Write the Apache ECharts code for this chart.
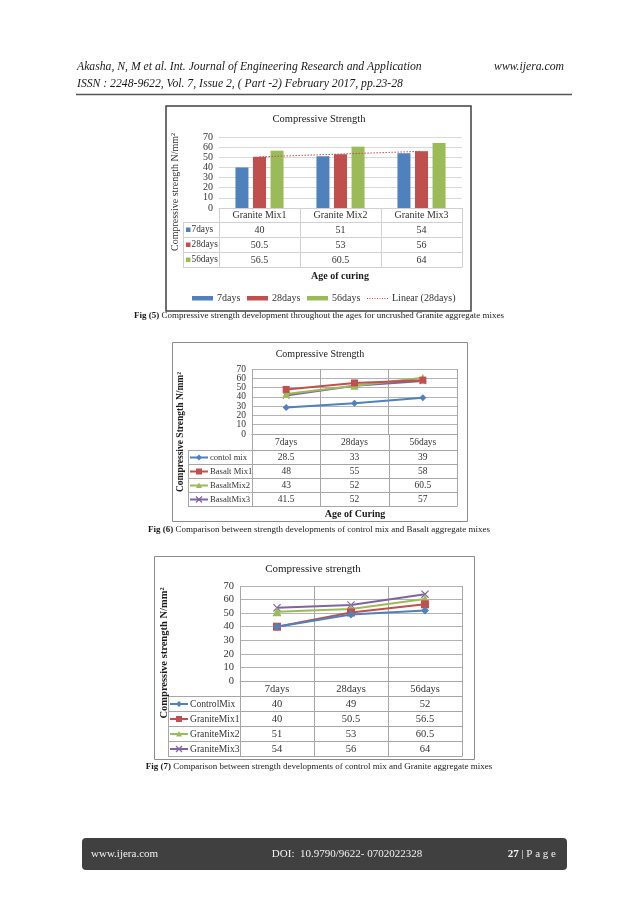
<!DOCTYPE html>
<html><head><meta charset="utf-8">
<script src="https://cdn.jsdelivr.net/npm/echarts@6/dist/echarts.min.js"></script>
<style>html,body{margin:0;padding:0;background:#fff}#c{width:638px;height:902px}</style>
</head><body><div id="c"></div>
<script>
// ---------- DATA ----------
const fig5Categories = ['Granite Mix1', 'Granite Mix2', 'Granite Mix3'];
const fig5SeriesNames = ['7days', '28days', '56days'];
const fig5Days7 = [40, 51, 54];
const fig5Days28 = [50.5, 53, 56];
const fig5Days56 = [56.5, 60.5, 64];
const fig5TrendName = 'Linear (28days)';
const fig5Trend28 = [50.4, 53.2, 55.9];

const fig6Categories = ['7days', '28days', '56days'];
const fig6SeriesNames = ['contol mix', 'Basalt Mix1', 'BasaltMix2', 'BasaltMix3'];
const fig6ControlMix = [28.5, 33, 39];
const fig6BasaltMix1 = [48, 55, 58];
const fig6BasaltMix2 = [43, 52, 60.5];
const fig6BasaltMix3 = [41.5, 52, 57];

const fig7Categories = ['7days', '28days', '56days'];
const fig7SeriesNames = ['ControlMix', 'GraniteMix1', 'GraniteMix2', 'GraniteMix3'];
const fig7ControlMix = [40, 49, 52];
const fig7GraniteMix1 = [40, 50.5, 56.5];
const fig7GraniteMix2 = [51, 53, 60.5];
const fig7GraniteMix3 = [54, 56, 64];

const yMin = 0, yMax = 70, yStep = 10;

// ---------- TEXTS ----------
const headerLine1 = 'Akasha, N, M et al. Int. Journal of Engineering Research and Application';
const headerLine2 = 'ISSN : 2248-9622, Vol. 7, Issue 2, ( Part -2) February 2017, pp.23-28';
const headerSite = 'www.ijera.com';
const fig5Title = 'Compressive Strength';
const fig6Title = 'Compressive Strength';
const fig7Title = 'Compressive strength';
const fig5YName = 'Compressive strength N/mm²';
const fig6YName = 'Compressive Strength N/mm²';
const fig7YName = 'Compressive strength N/mm²';
const fig5XName = 'Age of curing';
const fig6XName = 'Age of Curing';
const cap5 = ['Fig (5)', ' Compressive strength development throughout the ages for uncrushed Granite aggregate mixes'];
const cap6 = ['Fig (6)', ' Comparison between strength developments of control mix and Basalt aggregate mixes'];
const cap7 = ['Fig (7)', ' Comparison between strength developments of control mix and Granite aggregate mixes'];
const footLeft = 'www.ijera.com';
const footMid = 'DOI:  10.9790/9622- 0702022328';
const footPage = '27';
const footPageTail = ' | P a g e';

// ---------- STYLE / LAYOUT ----------
const SERIF = "'Liberation Serif','Times New Roman',serif";
const COL = ['#4f81bd', '#c0504d', '#9bbb59', '#8064a2'];
const XPATH = 'path://M0,1L1,0L5,4L9,0L10,1L6,5L10,9L9,10L5,6L1,10L0,9L4,5Z';
const SYM = ['diamond', 'rect', 'triangle', XPATH];
const L1 = {left: 219, right: 462, top: 137, bottom: 208, rowY: [208, 222, 237, 252, 267], keyLeft: 183, fs: 10, nfs: 9.3, line: '#d0d0d0', keyW: 0};
const L2 = {left: 252, right: 457, top: 369, bottom: 434, rowY: [434, 450, 464, 478, 492, 506], keyLeft: 188, fs: 9.5, nfs: 8.6, line: '#a6a6a6', keyW: 18};
const L3 = {left: 240, right: 462, top: 586, bottom: 681, rowY: [681, 696, 711, 726, 741, 756], keyLeft: 168, fs: 10.5, nfs: 9.6, line: '#a6a6a6', keyW: 18};

const G = [];
function txt(x, y, text, o) {
  o = o || {};
  const st = {text: text, font: o.font || ('10px ' + SERIF), fill: o.fill || '#262626',
    align: o.align || 'left', verticalAlign: o.va || 'middle',
    textAlign: o.align || 'left', textVerticalAlign: o.va || 'middle'};
  if (o.rich) st.rich = o.rich;
  G.push({type: 'text', x: x, y: y, rotation: o.rot || 0, z: 100, silent: true, style: st});
}
function ln(x1, y1, x2, y2, stroke, w, dash) {
  G.push({type: 'line', z: 50, silent: true, shape: {x1: x1, y1: y1, x2: x2, y2: y2},
    style: {stroke: stroke, lineWidth: w || 1, lineDash: dash || null}});
}
function rect(x, y, w, h, o) {
  G.push({type: 'rect', z: o.z || 40, silent: true, shape: {x: x, y: y, width: w, height: h, r: o.r || 0},
    style: {fill: o.fill || 'none', stroke: o.stroke || null, lineWidth: o.lw || 1}});
}
function marker(kind, cx, cy, s, color) {
  const h = s / 2;
  if (kind === 0) G.push({type: 'polygon', z: 60, silent: true, shape: {points: [[cx, cy - h], [cx + h, cy], [cx, cy + h], [cx - h, cy]]}, style: {fill: color}});
  else if (kind === 1) G.push({type: 'rect', z: 60, silent: true, shape: {x: cx - h, y: cy - h, width: s, height: s}, style: {fill: color}});
  else if (kind === 2) G.push({type: 'polygon', z: 60, silent: true, shape: {points: [[cx, cy - h], [cx + h, cy + h * 0.8], [cx - h, cy + h * 0.8]]}, style: {fill: color}});
  else { ln(cx - h, cy - h, cx + h, cy + h, color, 1.2); ln(cx - h, cy + h, cx + h, cy - h, color, 1.2); }
}

// table under a category plot
function dataTable(L, cats, names, rows, keyType) {
  const n = cats.length, bw = (L.right - L.left) / n, R = L.rowY, last = R[R.length - 1];
  const font = L.fs + 'px ' + SERIF, nfont = L.nfs + 'px ' + SERIF;
  ln(L.left, R[0] + 0.5, L.right, R[0] + 0.5, L.line);
  for (let i = 1; i < R.length; i++) ln(L.keyLeft, R[i] + 0.5, L.right, R[i] + 0.5, L.line);
  ln(L.keyLeft + 0.5, R[1], L.keyLeft + 0.5, last + 0.5, L.line);
  for (let j = 0; j <= n; j++) {
    const x = Math.round(L.left + j * bw) + 0.5;
    ln(x, R[0], x, last + 0.5, L.line);
  }
  cats.forEach((c, j) => txt(L.left + (j + 0.5) * bw, (R[0] + R[1]) / 2 + 0.5, c, {font: font, align: 'center', fill: '#333'}));
  rows.forEach((vals, i) => {
    const cy = (R[i + 1] + R[i + 2]) / 2 + 0.5;
    if (keyType === 'square') {
      rect(L.keyLeft + 3, cy - 2.5, 4.5, 4.5, {fill: COL[i], z: 60});
      txt(L.keyLeft + 8.5, cy, names[i], {font: nfont, fill: '#333'});
    } else {
      ln(L.keyLeft + 2, cy, L.keyLeft + 2 + L.keyW, cy, COL[i], 2);
      marker(i, L.keyLeft + 2 + L.keyW / 2, cy, 6, COL[i]);
      txt(L.keyLeft + 4 + L.keyW, cy, names[i], {font: nfont, fill: '#333'});
    }
    vals.forEach((v, j) => txt(L.left + (j + 0.5) * bw, cy, String(v), {font: font, align: 'center', fill: '#333'}));
  });
}

// ---------- PAGE TEXT ----------
const HF = 'italic 11.7px ' + SERIF;
txt(77, 67, headerLine1, {font: HF, fill: '#1a1a1a'});
txt(77, 84, headerLine2, {font: HF, fill: '#1a1a1a'});
txt(564, 67, headerSite, {font: HF, fill: '#1a1a1a', align: 'right'});
ln(76, 94.5, 572, 94.5, '#555', 1.5);

function caption(y, parts) {
  txt(319, y, '{b|' + parts[0] + '}' + parts[1], {font: '9px ' + SERIF, fill: '#1a1a1a', align: 'center',
    rich: {b: {fontWeight: 'bold', fontSize: 9, fontFamily: SERIF, fill: '#1a1a1a'}}});
}
caption(316, cap5);
caption(530, cap6);
caption(767, cap7);

rect(82, 838, 485, 32, {fill: '#404040', r: 4, z: 30});
txt(91, 854, footLeft, {font: '11px ' + SERIF, fill: '#f2f2f2'});
txt(347, 854, footMid, {font: '11px ' + SERIF, fill: '#f2f2f2', align: 'center'});
txt(556, 854, '{b|' + footPage + '}' + footPageTail, {font: '11px ' + SERIF, fill: '#f2f2f2', align: 'right',
  rich: {b: {fontWeight: 'bold', fontSize: 11, fontFamily: SERIF, fill: '#f2f2f2'}}});

// ---------- FIG 5 ----------
rect(166, 106, 305, 205, {stroke: '#404040', lw: 1.5, z: 20});
txt(319, 119, fig5Title, {font: '10.5px ' + SERIF, fill: '#1a1a1a', align: 'center'});
txt(175, 192, fig5YName, {font: '10px ' + SERIF, fill: '#333', align: 'center', rot: Math.PI / 2});
dataTable(L1, fig5Categories, fig5SeriesNames, [fig5Days7, fig5Days28, fig5Days56], 'square');
txt(340, 276, fig5XName, {font: 'bold 10px ' + SERIF, fill: '#1a1a1a', align: 'center'});
const lg5 = [[192, 217], [247, 272], [307, 332]];
fig5SeriesNames.forEach((nm, i) => {
  rect(lg5[i][0], 296, 21, 4.5, {fill: COL[i], z: 60});
  txt(lg5[i][1], 298.5, nm, {font: '10px ' + SERIF, fill: '#333'});
});
ln(367, 298.5, 388, 298.5, COL[1], 1, [1, 1.5]);
txt(392, 298.5, fig5TrendName, {font: '10px ' + SERIF, fill: '#333'});

// ---------- FIG 6 ----------
rect(172.5, 342.5, 295, 179, {stroke: '#8c8c8c', lw: 1, z: 20});
txt(320, 354, fig6Title, {font: '10px ' + SERIF, fill: '#1a1a1a', align: 'center'});
txt(181, 432, fig6YName, {font: 'bold 9.5px ' + SERIF, fill: '#1a1a1a', align: 'center', rot: Math.PI / 2});
dataTable(L2, fig6Categories, fig6SeriesNames, [fig6ControlMix, fig6BasaltMix1, fig6BasaltMix2, fig6BasaltMix3], 'line');
txt(355, 514, fig6XName, {font: 'bold 10px ' + SERIF, fill: '#1a1a1a', align: 'center'});

// ---------- FIG 7 ----------
rect(154.5, 556.5, 320, 203, {stroke: '#8c8c8c', lw: 1, z: 20});
txt(313, 569, fig7Title, {font: '11px ' + SERIF, fill: '#1a1a1a', align: 'center'});
txt(164, 653, fig7YName, {font: 'bold 10.5px ' + SERIF, fill: '#1a1a1a', align: 'center', rot: Math.PI / 2});
dataTable(L3, fig7Categories, fig7SeriesNames, [fig7ControlMix, fig7GraniteMix1, fig7GraniteMix2, fig7GraniteMix3], 'line');

// ---------- AXES ----------
function grid(L) { return {left: L.left, top: L.top, width: L.right - L.left, height: L.bottom - L.top, containLabel: false}; }
function xAx(i, cats, L, vsplit) {
  return {type: 'category', gridIndex: i, data: cats, boundaryGap: true,
    axisLabel: {show: false}, axisTick: {show: false},
    axisLine: {show: true, lineStyle: {color: L.line, width: 1}},
    splitLine: {show: vsplit, lineStyle: {color: L.line, width: 1}}};
}
// parity: null = all labels; 0 = even steps only; 1 = odd steps only
function yAx(i, L, fs, gridColor, parity, grid) {
  return {type: 'value', gridIndex: i, min: yMin, max: yMax, interval: yStep, position: 'left', offset: 0,
    axisLine: {show: false}, axisTick: {show: false},
    axisLabel: {fontFamily: SERIF, fontSize: fs, color: '#333', margin: 6,
      showMinLabel: true, showMaxLabel: true, hideOverlap: false,
      formatter: function (v) {
        if (parity === null) return String(v);
        return (Math.round(v / yStep) % 2 === parity) ? String(v) : '';
      }},
    splitLine: {show: grid, lineStyle: {color: gridColor, width: 1}}};
}
function lineSeries(name, data, k, ax, size) {
  return {name: name, type: 'line', xAxisIndex: ax, yAxisIndex: ax, data: data,
    symbol: SYM[k], symbolSize: k === 2 ? size + 1 : size, showSymbol: true,
    lineStyle: {color: COL[k], width: 2}, itemStyle: {color: COL[k]}, z: 10 - k};
}

const option = {
  backgroundColor: '#ffffff',
  animation: false,
  textStyle: {fontFamily: SERIF},
  grid: [grid(L1), grid(L2), grid(L3)],
  xAxis: [xAx(0, fig5Categories, L1, false), xAx(1, fig6Categories, L2, true), xAx(2, fig7Categories, L3, true)],
  yAxis: [yAx(0, L1, 10, '#d9d9d9', null, true), yAx(1, L2, 9.5, '#b3b3b3', 0, true), yAx(2, L3, 10.5, '#b3b3b3', null, true),
          yAx(1, L2, 9.5, '#b3b3b3', 1, false)],
  series: [
    {name: fig5SeriesNames[0], type: 'bar', data: fig5Days7, barWidth: 13, barGap: '35%', itemStyle: {color: COL[0]}},
    {name: fig5SeriesNames[1], type: 'bar', data: fig5Days28, barWidth: 13, barGap: '35%', itemStyle: {color: COL[1]}},
    {name: fig5SeriesNames[2], type: 'bar', data: fig5Days56, barWidth: 13, barGap: '35%', itemStyle: {color: COL[2]}},
    {name: fig5TrendName, type: 'line', data: fig5Trend28, symbol: 'none', z: 20,
      lineStyle: {color: COL[1], width: 1, type: [1.5, 1.5]}},
    lineSeries(fig6SeriesNames[0], fig6ControlMix, 0, 1, 7),
    lineSeries(fig6SeriesNames[1], fig6BasaltMix1, 1, 1, 7),
    lineSeries(fig6SeriesNames[2], fig6BasaltMix2, 2, 1, 7),
    lineSeries(fig6SeriesNames[3], fig6BasaltMix3, 3, 1, 7),
    lineSeries(fig7SeriesNames[0], fig7ControlMix, 0, 2, 8),
    lineSeries(fig7SeriesNames[1], fig7GraniteMix1, 1, 2, 8),
    lineSeries(fig7SeriesNames[2], fig7GraniteMix2, 2, 2, 8),
    lineSeries(fig7SeriesNames[3], fig7GraniteMix3, 3, 2, 8)
  ],
  graphic: {elements: G}
};
const chart = echarts.init(document.getElementById('c'), null, {renderer: 'canvas', width: 638, height: 902});
chart.setOption(option);
</script>
</body></html>
